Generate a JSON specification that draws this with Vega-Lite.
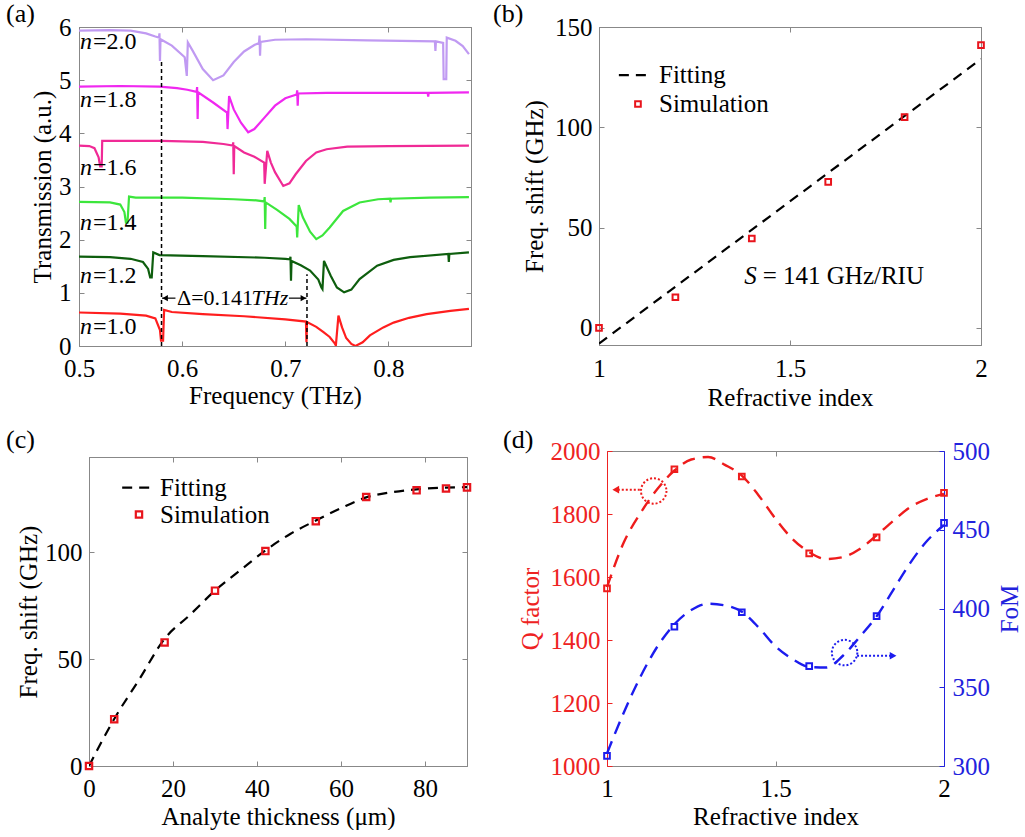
{
"$schema": "https://vega.github.io/schema/vega-lite/v6.json",
"background": "white",
"padding": {"left": -35, "top": 0, "right": 0, "bottom": 0},
"config": {
  "font": "Liberation Serif",
  "view": {"stroke": "#888888", "strokeWidth": 1},
  "axis": {"labelFont": "Liberation Serif", "titleFont": "Liberation Serif", "labelFontSize": 25, "titleFontSize": 25, "titleFontWeight": "normal", "labelColor": "#000000", "titleColor": "#000000", "domainColor": "#888888", "tickColor": "#888888", "tickSize": -5, "grid": false, "labelFlush": false, "labelOverlap": false},
  "title": {"font": "Liberation Serif", "fontSize": 26, "fontWeight": "normal", "anchor": "start", "frame": "group", "baseline": "alphabetic", "color": "#000000"},
  "text": {"font": "Liberation Serif"}
},
"datasets": {
  "spectra": [
    {"n":"2.0","f":0.500,"T":5.93},{"n":"2.0","f":0.530,"T":5.94},{"n":"2.0","f":0.550,"T":5.93},{"n":"2.0","f":0.565,"T":5.88},{"n":"2.0","f":0.574,"T":5.82},{"n":"2.0","f":0.5775,"T":5.80},{"n":"2.0","f":0.578,"T":5.88},{"n":"2.0","f":0.5785,"T":5.36},{"n":"2.0","f":0.579,"T":5.77},{"n":"2.0","f":0.590,"T":5.65},{"n":"2.0","f":0.6025,"T":5.43},{"n":"2.0","f":0.6045,"T":5.08},{"n":"2.0","f":0.6055,"T":5.71},{"n":"2.0","f":0.610,"T":5.56},{"n":"2.0","f":0.620,"T":5.21},{"n":"2.0","f":0.630,"T":5.00},{"n":"2.0","f":0.640,"T":5.09},{"n":"2.0","f":0.650,"T":5.34},{"n":"2.0","f":0.660,"T":5.54},{"n":"2.0","f":0.670,"T":5.66},{"n":"2.0","f":0.6745,"T":5.70},{"n":"2.0","f":0.675,"T":5.84},{"n":"2.0","f":0.6755,"T":5.46},{"n":"2.0","f":0.676,"T":5.72},{"n":"2.0","f":0.690,"T":5.76},{"n":"2.0","f":0.720,"T":5.77},{"n":"2.0","f":0.780,"T":5.75},{"n":"2.0","f":0.845,"T":5.73},{"n":"2.0","f":0.8455,"T":5.55},{"n":"2.0","f":0.846,"T":5.73},{"n":"2.0","f":0.853,"T":5.70},{"n":"2.0","f":0.8535,"T":5.02},{"n":"2.0","f":0.856,"T":5.02},{"n":"2.0","f":0.8565,"T":5.80},{"n":"2.0","f":0.865,"T":5.74},{"n":"2.0","f":0.872,"T":5.64},{"n":"2.0","f":0.878,"T":5.49},
    {"n":"1.8","f":0.500,"T":4.88},{"n":"1.8","f":0.540,"T":4.89},{"n":"1.8","f":0.578,"T":4.88},{"n":"1.8","f":0.595,"T":4.85},{"n":"1.8","f":0.605,"T":4.82},{"n":"1.8","f":0.614,"T":4.78},{"n":"1.8","f":0.6145,"T":4.87},{"n":"1.8","f":0.615,"T":4.27},{"n":"1.8","f":0.6155,"T":4.77},{"n":"1.8","f":0.630,"T":4.58},{"n":"1.8","f":0.6435,"T":4.39},{"n":"1.8","f":0.644,"T":4.08},{"n":"1.8","f":0.6455,"T":4.70},{"n":"1.8","f":0.650,"T":4.45},{"n":"1.8","f":0.657,"T":4.20},{"n":"1.8","f":0.664,"T":4.02},{"n":"1.8","f":0.670,"T":4.08},{"n":"1.8","f":0.680,"T":4.30},{"n":"1.8","f":0.690,"T":4.52},{"n":"1.8","f":0.700,"T":4.66},{"n":"1.8","f":0.711,"T":4.73},{"n":"1.8","f":0.7115,"T":4.81},{"n":"1.8","f":0.712,"T":4.52},{"n":"1.8","f":0.7125,"T":4.75},{"n":"1.8","f":0.740,"T":4.76},{"n":"1.8","f":0.800,"T":4.76},{"n":"1.8","f":0.838,"T":4.76},{"n":"1.8","f":0.8385,"T":4.69},{"n":"1.8","f":0.839,"T":4.76},{"n":"1.8","f":0.878,"T":4.77},
    {"n":"1.6","f":0.500,"T":3.77},{"n":"1.6","f":0.510,"T":3.76},{"n":"1.6","f":0.515,"T":3.72},{"n":"1.6","f":0.519,"T":3.55},{"n":"1.6","f":0.5205,"T":3.38},{"n":"1.6","f":0.522,"T":3.38},{"n":"1.6","f":0.5225,"T":3.86},{"n":"1.6","f":0.530,"T":3.86},{"n":"1.6","f":0.580,"T":3.86},{"n":"1.6","f":0.620,"T":3.84},{"n":"1.6","f":0.640,"T":3.80},{"n":"1.6","f":0.649,"T":3.77},{"n":"1.6","f":0.6495,"T":3.83},{"n":"1.6","f":0.650,"T":3.23},{"n":"1.6","f":0.6505,"T":3.76},{"n":"1.6","f":0.660,"T":3.64},{"n":"1.6","f":0.670,"T":3.56},{"n":"1.6","f":0.6795,"T":3.45},{"n":"1.6","f":0.680,"T":3.05},{"n":"1.6","f":0.6825,"T":3.67},{"n":"1.6","f":0.686,"T":3.45},{"n":"1.6","f":0.690,"T":3.27},{"n":"1.6","f":0.698,"T":3.01},{"n":"1.6","f":0.704,"T":3.06},{"n":"1.6","f":0.710,"T":3.23},{"n":"1.6","f":0.720,"T":3.48},{"n":"1.6","f":0.730,"T":3.64},{"n":"1.6","f":0.740,"T":3.70},{"n":"1.6","f":0.760,"T":3.75},{"n":"1.6","f":0.800,"T":3.76},{"n":"1.6","f":0.878,"T":3.77},
    {"n":"1.4","f":0.500,"T":2.71},{"n":"1.4","f":0.530,"T":2.70},{"n":"1.4","f":0.540,"T":2.66},{"n":"1.4","f":0.544,"T":2.52},{"n":"1.4","f":0.5455,"T":2.32},{"n":"1.4","f":0.547,"T":2.32},{"n":"1.4","f":0.5485,"T":2.81},{"n":"1.4","f":0.555,"T":2.79},{"n":"1.4","f":0.600,"T":2.79},{"n":"1.4","f":0.650,"T":2.76},{"n":"1.4","f":0.672,"T":2.74},{"n":"1.4","f":0.6795,"T":2.72},{"n":"1.4","f":0.680,"T":2.80},{"n":"1.4","f":0.6805,"T":2.20},{"n":"1.4","f":0.681,"T":2.70},{"n":"1.4","f":0.692,"T":2.56},{"n":"1.4","f":0.704,"T":2.39},{"n":"1.4","f":0.711,"T":2.25},{"n":"1.4","f":0.7115,"T":2.04},{"n":"1.4","f":0.713,"T":2.65},{"n":"1.4","f":0.717,"T":2.42},{"n":"1.4","f":0.724,"T":2.15},{"n":"1.4","f":0.730,"T":2.01},{"n":"1.4","f":0.736,"T":2.08},{"n":"1.4","f":0.743,"T":2.23},{"n":"1.4","f":0.756,"T":2.54},{"n":"1.4","f":0.772,"T":2.70},{"n":"1.4","f":0.790,"T":2.76},{"n":"1.4","f":0.8015,"T":2.77},{"n":"1.4","f":0.802,"T":2.70},{"n":"1.4","f":0.8025,"T":2.77},{"n":"1.4","f":0.840,"T":2.79},{"n":"1.4","f":0.878,"T":2.80},
    {"n":"1.2","f":0.500,"T":1.68},{"n":"1.2","f":0.530,"T":1.67},{"n":"1.2","f":0.550,"T":1.64},{"n":"1.2","f":0.562,"T":1.58},{"n":"1.2","f":0.567,"T":1.45},{"n":"1.2","f":0.569,"T":1.29},{"n":"1.2","f":0.5705,"T":1.29},{"n":"1.2","f":0.572,"T":1.76},{"n":"1.2","f":0.578,"T":1.71},{"n":"1.2","f":0.620,"T":1.69},{"n":"1.2","f":0.680,"T":1.66},{"n":"1.2","f":0.700,"T":1.64},{"n":"1.2","f":0.7045,"T":1.63},{"n":"1.2","f":0.705,"T":1.68},{"n":"1.2","f":0.7055,"T":1.23},{"n":"1.2","f":0.706,"T":1.60},{"n":"1.2","f":0.715,"T":1.52},{"n":"1.2","f":0.724,"T":1.42},{"n":"1.2","f":0.732,"T":1.25},{"n":"1.2","f":0.735,"T":1.10},{"n":"1.2","f":0.736,"T":1.07},{"n":"1.2","f":0.7375,"T":1.60},{"n":"1.2","f":0.744,"T":1.32},{"n":"1.2","f":0.750,"T":1.10},{"n":"1.2","f":0.757,"T":1.01},{"n":"1.2","f":0.764,"T":1.06},{"n":"1.2","f":0.772,"T":1.26},{"n":"1.2","f":0.789,"T":1.51},{"n":"1.2","f":0.805,"T":1.62},{"n":"1.2","f":0.821,"T":1.67},{"n":"1.2","f":0.858,"T":1.73},{"n":"1.2","f":0.8585,"T":1.58},{"n":"1.2","f":0.859,"T":1.73},{"n":"1.2","f":0.878,"T":1.76},
    {"n":"1.0","f":0.500,"T":0.63},{"n":"1.0","f":0.540,"T":0.61},{"n":"1.0","f":0.565,"T":0.57},{"n":"1.0","f":0.574,"T":0.52},{"n":"1.0","f":0.5785,"T":0.30},{"n":"1.0","f":0.5795,"T":0.10},{"n":"1.0","f":0.5815,"T":0.10},{"n":"1.0","f":0.5825,"T":0.68},{"n":"1.0","f":0.590,"T":0.64},{"n":"1.0","f":0.620,"T":0.60},{"n":"1.0","f":0.660,"T":0.56},{"n":"1.0","f":0.700,"T":0.50},{"n":"1.0","f":0.720,"T":0.46},{"n":"1.0","f":0.7205,"T":0.07},{"n":"1.0","f":0.721,"T":0.45},{"n":"1.0","f":0.730,"T":0.36},{"n":"1.0","f":0.737,"T":0.26},{"n":"1.0","f":0.743,"T":0.17},{"n":"1.0","f":0.7475,"T":0.06},{"n":"1.0","f":0.749,"T":0.01},{"n":"1.0","f":0.7515,"T":0.57},{"n":"1.0","f":0.755,"T":0.35},{"n":"1.0","f":0.759,"T":0.15},{"n":"1.0","f":0.764,"T":0.04},{"n":"1.0","f":0.768,"T":0.00},{"n":"1.0","f":0.775,"T":0.07},{"n":"1.0","f":0.782,"T":0.20},{"n":"1.0","f":0.795,"T":0.35},{"n":"1.0","f":0.805,"T":0.44},{"n":"1.0","f":0.820,"T":0.53},{"n":"1.0","f":0.837,"T":0.60},{"n":"1.0","f":0.860,"T":0.66},{"n":"1.0","f":0.878,"T":0.70}
  ],
  "labA": [{"lab":"=2.0","T":5.59},{"lab":"=1.8","T":4.49},{"lab":"=1.6","T":3.22},{"lab":"=1.4","T":2.19},{"lab":"=1.2","T":1.19},{"lab":"=1.0","T":0.22}],
  "markA": [{"f":0.58,"T0":0,"T1":5.34},{"f":0.721,"T0":0,"T1":1.35}],
  "arrA": [{"a":0.5805,"b":0.5935},{"a":0.7035,"b":0.7205}],
  "simB": [{"n":1,"s":0},{"n":1.2,"s":15.3},{"n":1.4,"s":44.6},{"n":1.6,"s":72.8},{"n":1.8,"s":105.1},{"n":2,"s":141}],
  "fitB": [{"n":1,"s":-7.8},{"n":2,"s":134}],
  "simC": [{"t":0,"s":0},{"t":6,"s":21.9},{"t":18,"s":57.8},{"t":30,"s":82},{"t":42,"s":100.5},{"t":54,"s":114.5},{"t":66,"s":125.8},{"t":78,"s":128.9},{"t":85,"s":129.8},{"t":90,"s":130.3}],
  "fitC": [{"t":0,"s":0},{"t":6,"s":22},{"t":12,"s":40.6},{"t":18,"s":59.5},{"t":24,"s":70.6},{"t":30,"s":82},{"t":36,"s":91.5},{"t":42,"s":100.8},{"t":48,"s":108.6},{"t":54,"s":114.8},{"t":60,"s":120.6},{"t":66,"s":125.6},{"t":72,"s":128},{"t":78,"s":129.4},{"t":84,"s":130.1},{"t":90,"s":130.4}],
  "ptsD": [{"n":1,"Q":1564,"F":306.4},{"n":1.2,"Q":1942,"F":388.4},{"n":1.4,"Q":1919,"F":397.6},{"n":1.6,"Q":1675,"F":363.4},{"n":1.8,"Q":1726,"F":395.2},{"n":2,"Q":1867,"F":454.4}],
  "fitD": [{"n":1.0,"Q":1568,"F":308},{"n":1.05,"Q":1710,"F":334},{"n":1.1,"Q":1804,"F":357},{"n":1.15,"Q":1880,"F":376},{"n":1.2,"Q":1938,"F":390},{"n":1.25,"Q":1973,"F":399},{"n":1.3,"Q":1981,"F":403},{"n":1.35,"Q":1956,"F":402},{"n":1.4,"Q":1922,"F":398},{"n":1.45,"Q":1859,"F":388},{"n":1.5,"Q":1785,"F":376},{"n":1.55,"Q":1721,"F":368},{"n":1.6,"Q":1679,"F":363},{"n":1.65,"Q":1657,"F":362.5},{"n":1.7,"Q":1663,"F":370},{"n":1.75,"Q":1689,"F":382},{"n":1.8,"Q":1732,"F":395},{"n":1.85,"Q":1779,"F":412},{"n":1.9,"Q":1822,"F":429},{"n":1.95,"Q":1848,"F":443},{"n":2.0,"Q":1864,"F":453}],
  "one": [{}],
  "none": []
},
"columns": 3,
"align": "none",
"spacing": {"row": 15, "column": 20},
"concat": [
  {"width": 0, "height": 0, "data": {"name": "none"}, "mark": "point", "view": {"stroke": null}},
  {"width": 392, "height": 319,
   "title": {"text": "(a)", "dx": -73, "offset": -12},
   "layer": [
    {"data": {"name": "spectra"}, "mark": {"type": "line", "strokeWidth": 2.2, "clip": true},
     "encoding": {
      "x": {"field": "f", "type": "quantitative", "scale": {"domain": [0.5, 0.88], "nice": false, "zero": false}, "axis": {"orient": "bottom", "values": [0.5, 0.6, 0.7, 0.8], "format": ".1f", "title": "Frequency (THz)", "labelPadding": 15, "titlePadding": 2}},
      "y": {"field": "T", "type": "quantitative", "scale": {"domain": [0, 6], "nice": false}, "axis": {"orient": "left", "values": [0, 1, 2, 3, 4, 5, 6], "format": "d", "title": "Transmission (a.u.)", "labelPadding": 13, "titlePadding": 3}},
      "color": {"field": "n", "type": "nominal", "scale": {"domain": ["1.0", "1.2", "1.4", "1.6", "1.8", "2.0"], "range": ["#ff1e1e", "#0e5e0e", "#3ce63c", "#f02a96", "#f028f0", "#c09af2"]}, "legend": null}
     }},
    {"data": {"name": "markA"}, "mark": {"type": "rule", "strokeDash": [4, 3], "strokeWidth": 1.5, "color": "#000000"},
     "encoding": {
      "x": {"field": "f", "type": "quantitative", "scale": {"domain": [0.5, 0.88], "nice": false, "zero": false}, "axis": {"orient": "top", "values": [0.5, 0.6, 0.7, 0.8], "labels": false, "title": null}},
      "y": {"field": "T0", "type": "quantitative", "scale": {"domain": [0, 6], "nice": false}, "axis": {"orient": "right", "values": [0, 1, 2, 3, 4, 5, 6], "labels": false, "title": null}},
      "y2": {"field": "T1"}
     }},
    {"data": {"name": "labA"}, "mark": {"type": "text", "fontSize": 24, "fontStyle": "italic", "align": "left", "baseline": "alphabetic", "dx": 1, "text": "n"},
     "encoding": {
      "x": {"datum": 0.5, "type": "quantitative", "axis": null},
      "y": {"field": "T", "type": "quantitative", "axis": null}
     }},
    {"data": {"name": "labA"}, "mark": {"type": "text", "fontSize": 24, "align": "left", "baseline": "alphabetic", "dx": 14},
     "encoding": {
      "x": {"datum": 0.5, "type": "quantitative", "axis": null},
      "y": {"field": "T", "type": "quantitative", "axis": null},
      "text": {"field": "lab"}
     }},
    {"data": {"name": "arrA"}, "mark": {"type": "rule", "strokeWidth": 1.2, "color": "#000000"},
     "encoding": {
      "x": {"field": "a", "type": "quantitative", "axis": null},
      "x2": {"field": "b"},
      "y": {"datum": 0.9, "type": "quantitative", "axis": null}
     }},
    {"data": {"name": "one"}, "mark": {"type": "point", "shape": "triangle-left", "filled": true, "color": "#000000", "size": 40, "opacity": 1},
     "encoding": {"x": {"datum": 0.5835, "type": "quantitative", "axis": null}, "y": {"datum": 0.9, "type": "quantitative", "axis": null}}},
    {"data": {"name": "one"}, "mark": {"type": "point", "shape": "triangle-right", "filled": true, "color": "#000000", "size": 40, "opacity": 1},
     "encoding": {"x": {"datum": 0.7175, "type": "quantitative", "axis": null}, "y": {"datum": 0.9, "type": "quantitative", "axis": null}}},
    {"data": {"name": "one"}, "mark": {"type": "text", "fontSize": 22, "align": "left", "baseline": "middle", "text": "Δ=0.141"},
     "encoding": {"x": {"datum": 0.595, "type": "quantitative", "axis": null}, "y": {"datum": 0.9, "type": "quantitative", "axis": null}}},
    {"data": {"name": "one"}, "mark": {"type": "text", "fontSize": 22, "fontStyle": "italic", "align": "right", "baseline": "middle", "text": "THz"},
     "encoding": {"x": {"datum": 0.7028, "type": "quantitative", "axis": null}, "y": {"datum": 0.9, "type": "quantitative", "axis": null}}}
   ],
   "resolve": {"axis": {"x": "independent", "y": "independent"}}
  },
  {"width": 382, "height": 318,
   "title": {"text": "(b)", "dx": -106, "offset": -12},
   "layer": [
    {"data": {"name": "fitB"}, "mark": {"type": "line", "strokeDash": [10, 7], "strokeWidth": 2.2, "color": "#000000", "clip": true},
     "encoding": {
      "x": {"field": "n", "type": "quantitative", "scale": {"domain": [1, 2], "nice": false, "zero": false}, "axis": {"orient": "top", "values": [1, 1.5, 2], "labels": false, "title": null}},
      "y": {"field": "s", "type": "quantitative", "scale": {"domain": [-8.5, 150], "nice": false, "zero": false}, "axis": {"orient": "right", "values": [0, 50, 100, 150], "labels": false, "title": null}}
     }},
    {"data": {"name": "simB"}, "mark": {"type": "point", "shape": "square", "filled": false, "color": "#e8141c", "strokeWidth": 2, "size": 32, "opacity": 1},
     "encoding": {
      "x": {"field": "n", "type": "quantitative", "scale": {"domain": [1, 2], "nice": false, "zero": false}, "axis": {"orient": "bottom", "values": [1, 1.5, 2], "format": "~g", "title": "Refractive index", "labelPadding": 16, "titlePadding": 4}},
      "y": {"field": "s", "type": "quantitative", "scale": {"domain": [-8.5, 150], "nice": false, "zero": false}, "axis": {"orient": "left", "values": [0, 50, 100, 150], "format": "d", "title": "Freq. shift (GHz)", "labelPadding": 12, "titlePadding": 7}}
     }},
    {"data": {"name": "one"}, "mark": {"type": "rule", "strokeDash": [10, 7], "strokeWidth": 2.2, "color": "#000000"},
     "encoding": {"x": {"datum": 1.052, "type": "quantitative", "axis": null}, "x2": {"datum": 1.128}, "y": {"datum": 126, "type": "quantitative", "axis": null}}},
    {"data": {"name": "one"}, "mark": {"type": "point", "shape": "square", "filled": false, "color": "#e8141c", "strokeWidth": 2, "size": 32, "opacity": 1},
     "encoding": {"x": {"datum": 1.102, "type": "quantitative", "axis": null}, "y": {"datum": 111.6, "type": "quantitative", "axis": null}}},
    {"data": {"name": "one"}, "mark": {"type": "text", "fontSize": 25, "align": "left", "baseline": "middle", "text": "Fitting"},
     "encoding": {"x": {"datum": 1.157, "type": "quantitative", "axis": null}, "y": {"datum": 126, "type": "quantitative", "axis": null}}},
    {"data": {"name": "one"}, "mark": {"type": "text", "fontSize": 25, "align": "left", "baseline": "middle", "text": "Simulation"},
     "encoding": {"x": {"datum": 1.157, "type": "quantitative", "axis": null}, "y": {"datum": 111.6, "type": "quantitative", "axis": null}}},
    {"data": {"name": "one"}, "mark": {"type": "text", "fontSize": 25, "fontStyle": "italic", "align": "left", "baseline": "middle", "text": "S"},
     "encoding": {"x": {"datum": 1.38, "type": "quantitative", "axis": null}, "y": {"datum": 25.8, "type": "quantitative", "axis": null}}},
    {"data": {"name": "one"}, "mark": {"type": "text", "fontSize": 25, "align": "left", "baseline": "middle", "text": "= 141 GHz/RIU"},
     "encoding": {"x": {"datum": 1.4285, "type": "quantitative", "axis": null}, "y": {"datum": 25.8, "type": "quantitative", "axis": null}}}
   ],
   "resolve": {"axis": {"x": "independent", "y": "independent"}}
  },
  {"width": 0, "height": 0, "data": {"name": "none"}, "mark": "point", "view": {"stroke": null}},
  {"width": 378, "height": 309,
   "title": {"text": "(c)", "dx": -83, "offset": 4},
   "layer": [
    {"data": {"name": "fitC"}, "mark": {"type": "line", "interpolate": "monotone", "strokeDash": [10, 7], "strokeWidth": 2.2, "color": "#000000", "clip": true},
     "encoding": {
      "x": {"field": "t", "type": "quantitative", "scale": {"domain": [0, 90], "nice": false}, "axis": {"orient": "top", "values": [0, 20, 40, 60, 80], "labels": false, "title": null}},
      "y": {"field": "s", "type": "quantitative", "scale": {"domain": [0, 144.5], "nice": false}, "axis": {"orient": "right", "values": [0, 50, 100], "labels": false, "title": null}}
     }},
    {"data": {"name": "simC"}, "mark": {"type": "point", "shape": "square", "filled": false, "color": "#e8141c", "strokeWidth": 2.2, "size": 40, "opacity": 1, "clip": false},
     "encoding": {
      "x": {"field": "t", "type": "quantitative", "scale": {"domain": [0, 90], "nice": false}, "axis": {"orient": "bottom", "values": [0, 20, 40, 60, 80], "format": "d", "title": "Analyte thickness (μm)", "labelPadding": 15, "titlePadding": 3}},
      "y": {"field": "s", "type": "quantitative", "scale": {"domain": [0, 144.5], "nice": false}, "axis": {"orient": "left", "values": [0, 50, 100], "format": "d", "title": "Freq. shift (GHz)", "labelPadding": 12, "titlePadding": 3}}
     }},
    {"data": {"name": "one"}, "mark": {"type": "rule", "strokeDash": [10, 7], "strokeWidth": 2.2, "color": "#000000"},
     "encoding": {"x": {"datum": 7.9, "type": "quantitative", "axis": null}, "x2": {"datum": 14.4}, "y": {"datum": 130.2, "type": "quantitative", "axis": null}}},
    {"data": {"name": "one"}, "mark": {"type": "point", "shape": "square", "filled": false, "color": "#e8141c", "strokeWidth": 2.2, "size": 40, "opacity": 1},
     "encoding": {"x": {"datum": 11.9, "type": "quantitative", "axis": null}, "y": {"datum": 117.6, "type": "quantitative", "axis": null}}},
    {"data": {"name": "one"}, "mark": {"type": "text", "fontSize": 25, "align": "left", "baseline": "middle", "text": "Fitting"},
     "encoding": {"x": {"datum": 16.9, "type": "quantitative", "axis": null}, "y": {"datum": 130.2, "type": "quantitative", "axis": null}}},
    {"data": {"name": "one"}, "mark": {"type": "text", "fontSize": 25, "align": "left", "baseline": "middle", "text": "Simulation"},
     "encoding": {"x": {"datum": 16.9, "type": "quantitative", "axis": null}, "y": {"datum": 117.2, "type": "quantitative", "axis": null}}}
   ],
   "resolve": {"axis": {"x": "independent", "y": "independent"}}
  },
  {"width": 337, "height": 315,
   "title": {"text": "(d)", "dx": -104, "offset": -14},
   "layer": [
    {"data": {"name": "fitD"}, "mark": {"type": "line", "interpolate": "monotone", "strokeDash": [13, 8], "strokeWidth": 2.4, "color": "#ee1c1c"},
     "encoding": {
      "x": {"field": "n", "type": "quantitative", "scale": {"domain": [1, 2], "nice": false, "zero": false}, "axis": {"orient": "bottom", "values": [1, 1.5, 2], "format": "~g", "title": "Refractive index", "labelPadding": 15, "titlePadding": 3}},
      "y": {"field": "Q", "type": "quantitative", "scale": {"domain": [1000, 2000], "nice": false, "zero": false}, "axis": {"orient": "left", "values": [1000, 1200, 1400, 1600, 1800, 2000], "format": "d", "title": "Q factor", "labelPadding": 12, "titlePadding": 7, "labelColor": "#ee2222", "titleColor": "#ee2222", "domainColor": "#ee2222", "tickColor": "#ee2222"}}
     }},
    {"data": {"name": "ptsD"}, "mark": {"type": "point", "shape": "square", "filled": false, "color": "#ee1c1c", "strokeWidth": 2, "size": 32, "opacity": 1},
     "encoding": {
      "x": {"field": "n", "type": "quantitative", "scale": {"domain": [1, 2], "nice": false, "zero": false}, "axis": null},
      "y": {"field": "Q", "type": "quantitative", "scale": {"domain": [1000, 2000], "nice": false, "zero": false}, "axis": null}
     }},
    {"data": {"name": "fitD"}, "mark": {"type": "line", "interpolate": "monotone", "strokeDash": [13, 8], "strokeWidth": 2.4, "color": "#1c1cee"},
     "encoding": {
      "x": {"field": "n", "type": "quantitative", "scale": {"domain": [1, 2], "nice": false, "zero": false}, "axis": {"orient": "top", "values": [1, 1.5, 2], "labels": false, "title": null}},
      "y": {"field": "F", "type": "quantitative", "scale": {"domain": [300, 500], "nice": false, "zero": false}, "axis": {"orient": "right", "values": [300, 350, 400, 450, 500], "format": "d", "title": "FoM", "titleAngle": -90, "titleBaseline": "top", "labelPadding": 13, "titlePadding": 8, "labelColor": "#2222dd", "titleColor": "#2222dd", "domainColor": "#2222dd", "tickColor": "#2222dd"}}
     }},
    {"data": {"name": "ptsD"}, "mark": {"type": "point", "shape": "square", "filled": false, "color": "#1c1cee", "strokeWidth": 2, "size": 32, "opacity": 1},
     "encoding": {
      "x": {"field": "n", "type": "quantitative", "scale": {"domain": [1, 2], "nice": false, "zero": false}, "axis": null},
      "y": {"field": "F", "type": "quantitative", "scale": {"domain": [300, 500], "nice": false, "zero": false}, "axis": null}
     }},
    {"data": {"name": "one"}, "mark": {"type": "point", "shape": "circle", "filled": false, "color": "#ee1c1c", "strokeWidth": 2, "strokeDash": [2, 2], "size": 650, "opacity": 1},
     "encoding": {"x": {"datum": 1.1386, "type": "quantitative", "axis": null}, "y": {"datum": 1873, "type": "quantitative", "scale": {"domain": [1000, 2000], "nice": false, "zero": false}, "axis": null}}},
    {"data": {"name": "one"}, "mark": {"type": "rule", "color": "#ee1c1c", "strokeWidth": 2, "strokeDash": [2, 2]},
     "encoding": {"x": {"datum": 1.032, "type": "quantitative", "axis": null}, "x2": {"datum": 1.099}, "y": {"datum": 1877, "type": "quantitative", "scale": {"domain": [1000, 2000], "nice": false, "zero": false}, "axis": null}}},
    {"data": {"name": "one"}, "mark": {"type": "point", "shape": "triangle-left", "filled": true, "color": "#ee1c1c", "size": 60, "opacity": 1},
     "encoding": {"x": {"datum": 1.026, "type": "quantitative", "axis": null}, "y": {"datum": 1877, "type": "quantitative", "scale": {"domain": [1000, 2000], "nice": false, "zero": false}, "axis": null}}},
    {"data": {"name": "one"}, "mark": {"type": "point", "shape": "circle", "filled": false, "color": "#1c1cee", "strokeWidth": 2, "strokeDash": [2, 2], "size": 650, "opacity": 1},
     "encoding": {"x": {"datum": 1.705, "type": "quantitative", "axis": null}, "y": {"datum": 372, "type": "quantitative", "scale": {"domain": [300, 500], "nice": false, "zero": false}, "axis": null}}},
    {"data": {"name": "one"}, "mark": {"type": "rule", "color": "#1c1cee", "strokeWidth": 2, "strokeDash": [2, 2]},
     "encoding": {"x": {"datum": 1.742, "type": "quantitative", "axis": null}, "x2": {"datum": 1.842}, "y": {"datum": 370, "type": "quantitative", "scale": {"domain": [300, 500], "nice": false, "zero": false}, "axis": null}}},
    {"data": {"name": "one"}, "mark": {"type": "point", "shape": "triangle-right", "filled": true, "color": "#1c1cee", "size": 60, "opacity": 1},
     "encoding": {"x": {"datum": 1.849, "type": "quantitative", "axis": null}, "y": {"datum": 370, "type": "quantitative", "scale": {"domain": [300, 500], "nice": false, "zero": false}, "axis": null}}}
   ],
   "resolve": {"scale": {"y": "independent"}, "axis": {"x": "independent", "y": "independent"}}
  }
]
}
